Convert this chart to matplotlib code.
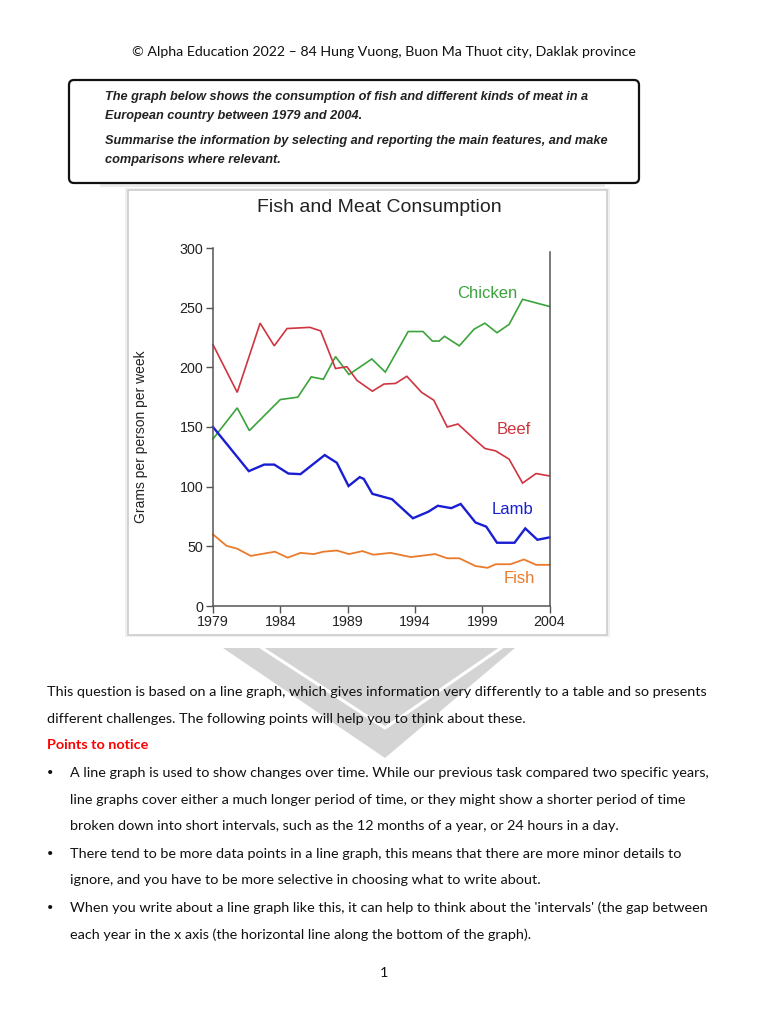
import matplotlib
matplotlib.use("Agg")
import matplotlib.pyplot as plt
from matplotlib.transforms import Affine2D
from matplotlib.patches import Rectangle, FancyBboxPatch, Polygon
from matplotlib.lines import Line2D

# ---------------- data ----------------
chicken_years = [1979.0, 1980.8, 1981.7, 1984.0, 1985.3, 1986.3, 1987.2, 1988.1, 1989.1,
                 1990.8, 1991.8, 1993.5, 1994.6, 1995.3, 1995.8, 1996.2, 1997.3, 1998.4,
                 1999.2, 2000.1, 2001.0, 2002.0, 2004.0]
chicken_vals = [140, 166, 147, 173, 175, 192, 190, 209, 194,
                207, 196, 230, 230, 222, 222, 226, 218, 232,
                237, 229, 236, 257, 251]

beef_years = [1979.0, 1980.8, 1982.5, 1983.55, 1984.5, 1986.2, 1987.0, 1988.1, 1988.95,
              1989.7, 1990.84, 1991.7, 1992.56, 1993.4, 1994.5, 1995.4, 1996.4, 1997.2,
              1998.4, 1999.2, 2000.0, 2001.0, 2002.0, 2003.0, 2004.0]
beef_vals = [219, 179, 237, 218, 232.5, 233.5, 230.5, 199, 200.5,
             189, 180, 186, 186.5, 192.5, 179, 172.5, 150, 152.5,
             140, 132, 130, 123, 103, 111, 109]

lamb_years = [1979.0, 1981.66, 1982.8, 1983.55, 1984.6, 1985.5, 1987.3, 1988.2, 1989.07,
              1989.9, 1990.2, 1990.84, 1992.3, 1993.85, 1995.0, 1995.7, 1996.7, 1997.4,
              1998.5, 1999.3, 2000.1, 2001.4, 2002.2, 2003.1, 2004.0]
lamb_vals = [150, 113, 118.5, 118.5, 111, 110.5, 126.5, 120, 100.5,
             108, 106.5, 94, 89.5, 73.5, 79, 84, 82, 85.5,
             70, 66.5, 53, 53, 65, 55.5, 57.5]

fish_years = [1979.0, 1980.0, 1980.8, 1981.8, 1983.6, 1984.55, 1985.5, 1986.5, 1987.2,
              1988.2, 1989.1, 1990.1, 1990.9, 1992.2, 1993.7, 1995.5, 1996.4, 1997.3,
              1998.5, 1999.4, 2000.0, 2001.1, 2002.1, 2003.0, 2004.0]
fish_vals = [60, 50.5, 48, 42, 45.5, 40.5, 44.5, 43.5, 45.5,
             46.5, 43.5, 46, 43, 44.5, 41, 43.5, 40, 40,
             33.5, 32, 35, 35, 39, 34.5, 34.5]

year_ticks = [1979, 1984, 1989, 1994, 1999, 2004]
value_ticks = [0, 50, 100, 150, 200, 250, 300]

series_names = ["Chicken", "Beef", "Lamb", "Fish"]
label_pos = {"Chicken": (1999.38, 262), "Beef": (2001.31, 147.5),
             "Lamb": (2001.27, 81), "Fish": (2001.73, 23.2)}

header = "\u00a9 Alpha Education 2022 \u2013 84 Hung Vuong, Buon Ma Thuot city, Daklak province"
task_lines = ["The graph below shows the consumption of fish and different kinds of meat in a",
              "European country between 1979 and 2004.",
              "Summarise the information by selecting and reporting the main features, and make",
              "comparisons where relevant."]
intro_lines = ["This question is based on a line graph, which gives information very differently to a table and so presents",
               "different challenges. The following points will help you to think about these."]
points_title = "Points to notice"
bullets = [
    ["A line graph is used to show changes over time. While our previous task compared two specific years,",
     "line graphs cover either a much longer period of time, or they might show a shorter period of time",
     "broken down into short intervals, such as the 12 months of a year, or 24 hours in a day."],
    ["There tend to be more data points in a line graph, this means that there are more minor details to",
     "ignore, and you have to be more selective in choosing what to write about."],
    ["When you write about a line graph like this, it can help to think about the 'intervals' (the gap between",
     "each year in the x axis (the horizontal line along the bottom of the graph)."],
]

# ---------------- page ----------------
W, H, DPI = 768, 1024, 100
fig = plt.figure(figsize=(W / DPI, H / DPI), dpi=DPI)
fig.patch.set_facecolor("white")
# pixel coords (top-left origin) -> display
T = Affine2D().scale(1 / DPI, -1 / DPI).translate(0, H / DPI) + fig.dpi_scale_trans
renderer = fig.canvas.get_renderer()


def ptext(x, y, s, **kw):
    return fig.text(x, y, s, transform=T, **kw)


def fit_size(s, target, **kw):
    t = fig.text(0, 0, s, fontsize=10, **kw)
    w = t.get_window_extent(renderer).width
    t.remove()
    return 10 * target / w


BODY = "Lato"
ARIAL = "Liberation Sans"

# header
hs = fit_size(header, 502, family=BODY)
ptext(384, 52, header, fontsize=hs, family=BODY, ha="center", va="center", color="#111111")

# task box with soft shadow
fig.patches.append(Rectangle((100, 183), 505, 4, transform=T, facecolor="#ebebeb",
                             edgecolor="none", zorder=0))
fig.patches.append(FancyBboxPatch((69, 80), 570, 103, boxstyle="round,pad=0,rounding_size=5",
                                  transform=T, facecolor="white", edgecolor="#111111",
                                  linewidth=1.6, zorder=1))
ts = fit_size(task_lines[0], 487, family=ARIAL, weight="bold", style="italic")
for s, y in zip(task_lines, [97, 116, 141, 160]):
    ptext(105, y, s, fontsize=ts, family=ARIAL, weight="bold", style="italic",
          ha="left", va="center", color="#222222", zorder=2)

# chart frame
fig.patches.append(Rectangle((125, 188), 485, 449, transform=T, facecolor="#f0f0f0",
                             edgecolor="none", zorder=0))
fig.patches.append(Rectangle((128, 190), 479, 445, transform=T, facecolor="white",
                             edgecolor="#cccccc", linewidth=1.2, zorder=0.5))

# watermark chevron
fig.patches.append(Polygon([(223, 648), (515, 648), (385, 758)], closed=True, transform=T,
                           facecolor="#d4d4d4", edgecolor="none", zorder=0))
fig.lines.append(Line2D([262, 385, 501], [648, 728, 648], transform=T, color="white",
                        linewidth=2.2, zorder=0.2))

# ---------------- chart ----------------
ax = fig.add_axes([213 / W, 1 - 606 / H, 336.5 / W, 358 / H])
ax.set_zorder(3)
ax.set_facecolor("none")
colors = {"Chicken": "#3ba33b", "Beef": "#cf3540", "Lamb": "#1a1ed2", "Fish": "#ea7b2c"}
data = {"Chicken": (chicken_years, chicken_vals), "Beef": (beef_years, beef_vals),
        "Lamb": (lamb_years, lamb_vals), "Fish": (fish_years, fish_vals)}
widths = {"Chicken": 1.2, "Beef": 1.2, "Lamb": 1.7, "Fish": 1.3}
for name in series_names:
    xs, ys = data[name]
    ax.plot(xs, ys, color=colors[name], linewidth=widths[name], solid_joinstyle="miter",
            clip_on=False)
    lx, ly = label_pos[name]
    ax.text(lx, ly, name, color=colors[name], fontsize=12, family=ARIAL,
            ha="center", va="center")

ax.set_xlim(1979, 2004)
ax.set_ylim(0, 300)
ax.set_xticks(year_ticks)
ax.set_yticks(value_ticks)
ax.set_xticklabels([str(v) for v in year_ticks], family=ARIAL, fontsize=10.3, color="#222222")
ax.set_yticklabels([str(v) for v in value_ticks], family=ARIAL, fontsize=10.3, color="#222222")
ax.tick_params(axis="both", direction="out", length=5, width=1, color="#555555", pad=2)
ax.tick_params(axis="x", pad=1.5)
for side in ["left", "bottom", "right"]:
    ax.spines[side].set_color("#555555")
    ax.spines[side].set_linewidth(1.1)
ax.spines["top"].set_visible(False)
ax.spines["right"].set_bounds(0, 297)

ptext(379.7, 207, "Fish and Meat Consumption", fontsize=14, family=ARIAL,
      ha="center", va="center", color="#222222", zorder=3)
ptext(141.5, 437, "Grams per person per week", fontsize=10, family=ARIAL, rotation=90,
      ha="center", va="center", color="#222222", zorder=3)

# ---------------- body text ----------------
bs = fit_size(intro_lines[0], 659, family=BODY)
ptext(47, 692, intro_lines[0], fontsize=bs, family=BODY, ha="left", va="center", color="#111111")
ptext(47, 719, intro_lines[1], fontsize=bs, family=BODY, ha="left", va="center", color="#111111")
ptext(47, 745, points_title, fontsize=bs, family=BODY, weight="bold", ha="left", va="center",
      color="#ff0000")
ys_b = [[773, 800, 826], [854, 880], [908, 935]]
for lines, ys in zip(bullets, ys_b):
    ptext(50, ys[0], "\u2022", fontsize=bs, family="DejaVu Sans", ha="center", va="center",
          color="#111111")
    for s, y in zip(lines, ys):
        ptext(70, y, s, fontsize=bs, family=BODY, ha="left", va="center", color="#111111")

ptext(384, 973, "1", fontsize=bs, family=BODY, ha="center", va="center", color="#111111")

fig.savefig("out.png", dpi=DPI, facecolor="white")
